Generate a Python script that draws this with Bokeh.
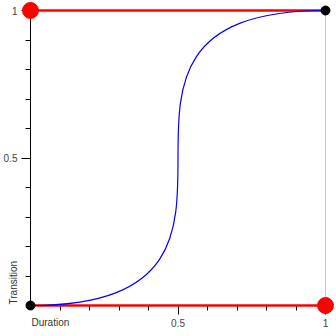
import math
from bokeh.plotting import figure
from bokeh.models import Range1d, LinearAxis, FixedTicker, Label, NumeralTickFormatter
from bokeh.embed import file_html
from bokeh.resources import INLINE

# Cubic bezier easing curve: endpoints and control points
start_pt = [0.0, 0.0]
end_pt = [1.0, 1.0]
ctrl1 = [1.0, 0.0]
ctrl2 = [0.0, 1.0]
major_ticks = [0.5, 1.0]
minor_ticks = [0.1, 0.2, 0.3, 0.4, 0.6, 0.7, 0.8, 0.9]
x_title = "Duration"
y_title = "Transition"

S = 295.0
p = figure(width=336, height=336, output_backend="svg", toolbar_location=None,
           x_range=Range1d(-30 / S, 1 + 11 / S), y_range=Range1d(-31 / S, 1 + 10 / S),
           x_axis_location=None, y_axis_location=None, min_border=0)
p.outline_line_color = None
p.grid.grid_line_color = None
p.background_fill_color = "white"
p.border_fill_color = "white"


def mk_axis():
    ax = LinearAxis(fixed_location=0, bounds=(0, 1),
                    ticker=FixedTicker(ticks=major_ticks, minor_ticks=minor_ticks),
                    formatter=NumeralTickFormatter(format="0.[0]"))
    ax.level = "underlay"
    ax.axis_line_color = "black"
    ax.axis_line_width = 1
    ax.major_tick_line_color = "black"
    ax.minor_tick_line_color = "black"
    ax.major_tick_out = 9
    ax.major_tick_in = 0
    ax.minor_tick_out = 5
    ax.minor_tick_in = 0
    ax.major_label_text_font = "Liberation Sans"
    ax.major_label_text_font_size = "10px"
    ax.major_label_text_color = "#444444"
    ax.major_label_standoff = 4
    return ax


p.add_layout(mk_axis(), "left")
p.add_layout(mk_axis(), "below")

rax = LinearAxis(fixed_location=1, bounds=(0, 1), ticker=FixedTicker(ticks=[]))
rax.level = "underlay"
rax.axis_line_color = "#c8c8c8"
rax.major_tick_line_color = None
rax.minor_tick_line_color = None
rax.major_label_text_font_size = "0px"
p.add_layout(rax, "right")

# handles
p.segment(x0=[start_pt[0], end_pt[0]], y0=[start_pt[1], end_pt[1]],
          x1=[ctrl1[0], ctrl2[0]], y1=[ctrl1[1], ctrl2[1]],
          line_color="#ff0000", line_width=2.5)
# curve
p.bezier(x0=[start_pt[0]], y0=[start_pt[1]], x1=[end_pt[0]], y1=[end_pt[1]],
         cx0=[ctrl1[0]], cy0=[ctrl1[1]], cx1=[ctrl2[0]], cy1=[ctrl2[1]],
         line_color="#0000ff", line_width=1.2)
# endpoints
p.scatter(x=[start_pt[0], end_pt[0]], y=[start_pt[1], end_pt[1]], size=9,
          fill_color="black", line_color="black")
# control points
p.scatter(x=[ctrl1[0], ctrl2[0]], y=[ctrl1[1], ctrl2[1]], size=16,
          fill_color="#ff0000", line_color="#ff0000")

p.add_layout(Label(x=0, y=0, x_offset=1, y_offset=-17, text=x_title,
                   text_align="left", text_baseline="middle",
                   text_font="Liberation Sans", text_font_size="10px",
                   text_color="#333333"))
p.add_layout(Label(x=0, y=0, x_offset=-17, y_offset=1, text=y_title, angle=math.pi / 2,
                   text_align="left", text_baseline="middle",
                   text_font="Liberation Sans", text_font_size="10px",
                   text_color="#333333"))

open("out.html", "w").write(file_html(p, INLINE))
